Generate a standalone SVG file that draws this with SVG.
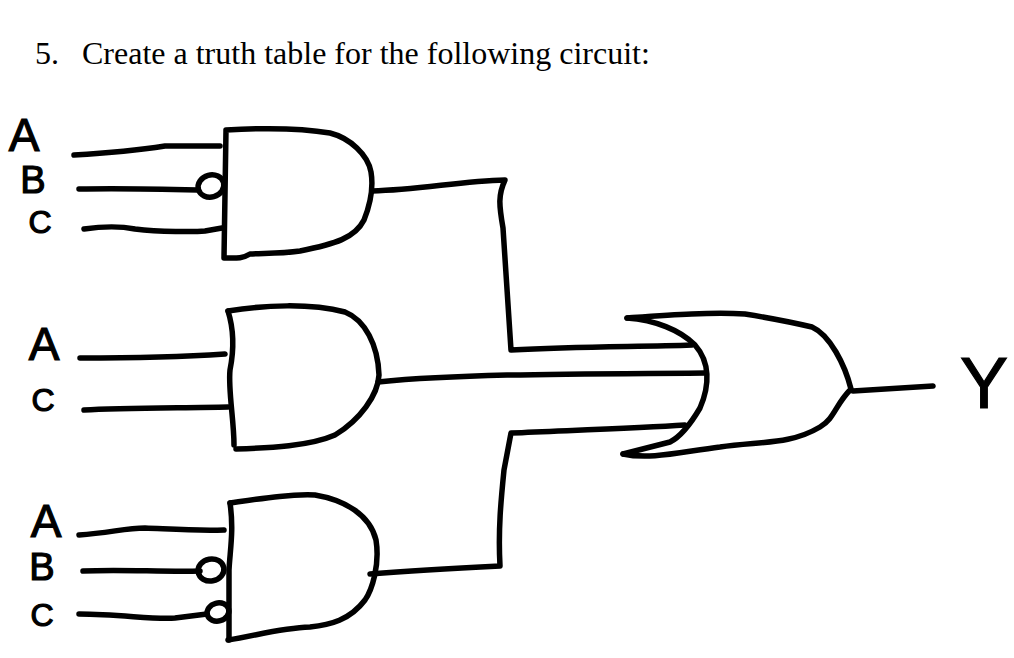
<svg xmlns="http://www.w3.org/2000/svg" width="1014" height="658" viewBox="0 0 1014 658">
<style>
.w{fill:none;stroke:#000;stroke-width:5.5;stroke-linecap:round;stroke-linejoin:round}
.t{font-family:"Liberation Serif","Times New Roman",serif;font-size:32px;fill:#000}
.h{font-family:"Liberation Sans",Arial,sans-serif;fill:#000;stroke:#000;stroke-width:1.2;text-anchor:middle}
</style>
<rect width="1014" height="658" fill="#fff"/>
<text class="t" x="35" y="64">5.</text>
<text class="t" x="82" y="64">Create a truth table for the following circuit:</text>
<g id="connectors">
<path class="w" d="M74 155C110 153 140 150 165 146L220 146"/>
<path class="w" d="M79 189C120 188 160 189 198 190"/>
<path class="w" d="M84 229C105 226 120 226 135 229C160 232 195 232 205 231L222 228"/>
<path class="w" d="M80 358C130 358 180 357 225 354"/>
<path class="w" d="M84 410C120 408 180 408 228 407"/>
<path class="w" d="M79 535C110 533 125 528 145 528C170 529 195 531 224 530"/>
<path class="w" d="M83 571C120 569 160 572 200 571"/>
<path class="w" d="M79 614C120 614 155 620 175 618L207 614"/>
<path class="w" d="M372 191C420 190 460 181 505 180C498 195 499 205 503 228L511 350C580 346 640 347 692 345"/>
<path class="w" d="M378 382C470 373 600 374 705 373"/>
<path class="w" d="M370 574C420 570 460 568 500 566C498 530 501 500 504 470L511 433C580 430 640 428 685 425"/>
<path class="w" d="M853 391L933 386"/>
</g>
<g id="gate1">
<path class="w" d="M226 130C260 128 295 127 330 133C350 138 368 155 371 172C374 190 370 205 364 220C355 238 335 244 300 251C280 254 260 253 250 254C242 259 235 258 224 258L226 130"/>
<ellipse class="w" cx="211" cy="186" rx="13" ry="11" transform="rotate(-15 211 186)"/>
</g>
<g id="gate2">
<path class="w" d="M228 311C265 305 310 303 345 312C365 320 378 345 379 375C378 395 360 420 335 435C310 446 270 448 236 449"/>
<path class="w" d="M228 311C234 330 234 350 230 370C228 390 234 420 234 445"/>
</g>
<g id="gate3">
<path class="w" d="M230 503C265 498 290 494 315 495C345 500 370 515 376 540C380 565 372 590 365 600C350 620 330 625 310 627C280 628 255 636 228 640"/>
<path class="w" d="M230 503C234 530 230 550 229 570L229 640"/>
<ellipse class="w" cx="211" cy="570" rx="13" ry="11" transform="rotate(-10 211 570)"/>
<ellipse class="w" cx="218" cy="612" rx="11" ry="9" transform="rotate(-15 218 612)"/>
</g>
<g id="orgate">
<path class="w" d="M627 318C670 315 710 312 745 314C770 318 795 323 812 327C830 335 845 365 851 389C835 405 835 418 820 427C790 445 760 441 720 447C680 452 650 460 623 454"/>
<path class="w" d="M627 318C655 320 680 330 695 345C710 362 710 385 700 408C690 425 680 437 670 442L623 454"/>
</g>
<g id="labels">
<text class="h" x="24" y="151" font-size="46">A</text>
<text class="h" x="33" y="193" font-size="38">B</text>
<text class="h" x="40" y="233" font-size="32">C</text>
<text class="h" x="44" y="360" font-size="46">A</text>
<text class="h" x="43" y="411" font-size="32">C</text>
<text class="h" x="46" y="537" font-size="46">A</text>
<text class="h" x="42" y="580" font-size="38">B</text>
<text class="h" x="42" y="626" font-size="32">C</text>
<text class="h" x="984" y="408" font-size="72" stroke-width="0">Y</text>
</g>
</svg>
